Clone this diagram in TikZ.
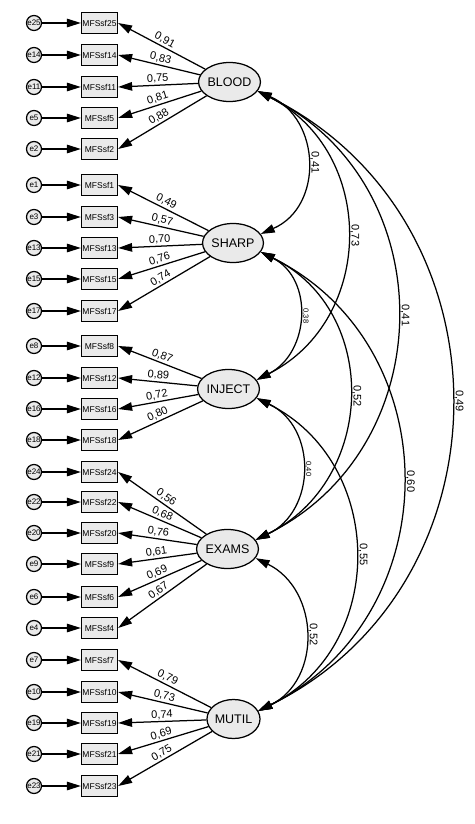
\documentclass[tikz,border=0pt]{standalone}
\usepackage{fontspec}
\setmainfont{Liberation Sans}
\usetikzlibrary{arrows.meta,shapes.geometric}
\definecolor{fillg}{RGB}{234,234,234}
\begin{document}
\begin{tikzpicture}[x=1pt,y=-1pt,
  tip/.tip={Triangle[length=14pt,width=8.5pt]},
  arr/.style={line width=1.25pt,-tip},
  cov/.style={line width=1.25pt,tip-tip},
  lat/.style={ellipse,draw,line width=1.25pt,fill=fillg,minimum width=53pt,minimum height=39pt,inner sep=0pt,font=\fontsize{12.5}{12.5}\selectfont},
  obs/.style={rectangle,draw,line width=1.25pt,fill=fillg,minimum width=36pt,minimum height=21pt,inner sep=0pt,font=\fontsize{8.5}{8.5}\selectfont},
  err/.style={circle,draw,line width=1.25pt,fill=fillg,minimum size=15pt,inner sep=0pt,font=\fontsize{8}{8}\selectfont},
  lab/.style={font=\fontsize{11}{11}\selectfont,inner sep=1.5pt},
  clab/.style={font=\fontsize{11}{11}\selectfont,rotate=-90,anchor=south,inner sep=3pt},
  sclab/.style={font=\fontsize{7.5}{7.5}\selectfont,rotate=-90,anchor=south,inner sep=3pt}
]
\useasboundingbox (0,0) rectangle (474,824);

\node[lat] (BLOOD)  at (229.5,82)  {BLOOD};
\node[lat] (SHARP)  at (233,243)   {SHARP};
\node[lat] (INJECT) at (228.5,389) {INJECT};
\node[lat] (EXAMS)  at (227.5,549) {EXAMS};
\node[lat] (MUTIL)  at (233.5,719) {MUTIL};

\foreach \e/\y/\f/\w in {
  25/23/BLOOD/91, 14/55/BLOOD/83, 11/87/BLOOD/75, 5/118/BLOOD/81, 2/149/BLOOD/88,
  1/185/SHARP/49, 3/217/SHARP/57, 13/248/SHARP/70, 15/279/SHARP/76, 17/311/SHARP/74,
  8/346/INJECT/87, 12/378/INJECT/89, 16/409/INJECT/72, 18/440/INJECT/80,
  24/472/EXAMS/56, 22/502/EXAMS/68, 20/533/EXAMS/76, 9/564/EXAMS/61, 6/597/EXAMS/69, 4/628/EXAMS/67,
  7/660/MUTIL/79, 10/692/MUTIL/73, 19/723/MUTIL/74, 21/754/MUTIL/69, 23/786/MUTIL/75}
{
  \node[err] (e\e) at (34,\y) {e\e};
  \node[obs] (m\e) at (99.5,\y) {MFSsf\e};
  \draw[arr] (e\e) -- (m\e);
  \draw[arr] (\f) -- node[lab,above,sloped] {0,\w} (m\e.east);
}

\draw[cov] (BLOOD.-18) .. controls +(63.2,27.6) and +(63.2,-27.6) .. (SHARP.18) node[clab,pos=.5]{0,41};
\draw[cov] (BLOOD.-18) .. controls +(119.3,60.3) and +(119.3,-60.3) .. (INJECT.18) node[clab,pos=.5]{0,73};
\draw[cov] (BLOOD.-18) .. controls +(186.8,92.3) and +(186.8,-92.3) .. (EXAMS.18) node[clab,pos=.5]{0,41};
\draw[cov] (BLOOD.-18) .. controls +(257.1,127) and +(257.1,-127) .. (MUTIL.18) node[clab,pos=.5]{0,49};
\draw[cov] (SHARP.-18) .. controls +(53.3,26.9) and +(53.3,-26.9) .. (INJECT.18) node[sclab,pos=.5]{0,38};
\draw[cov] (SHARP.-18) .. controls +(120.5,59) and +(120.5,-59) .. (EXAMS.18) node[clab,pos=.5]{0,52};
\draw[cov] (SHARP.-18) .. controls +(190,94.5) and +(190,-94.5) .. (MUTIL.18) node[clab,pos=.5]{0,60};
\draw[cov] (INJECT.-18) .. controls +(60.7,28.8) and +(60.7,-28.8) .. (EXAMS.18) node[sclab,pos=.5]{0,40};
\draw[cov] (INJECT.-18) .. controls +(129.7,64.4) and +(129.7,-64.4) .. (MUTIL.18) node[clab,pos=.5]{0,55};
\draw[cov] (EXAMS.-18) .. controls +(63.9,31.4) and +(63.9,-31.4) .. (MUTIL.18) node[clab,pos=.5]{0,52};
\end{tikzpicture}
\end{document}
